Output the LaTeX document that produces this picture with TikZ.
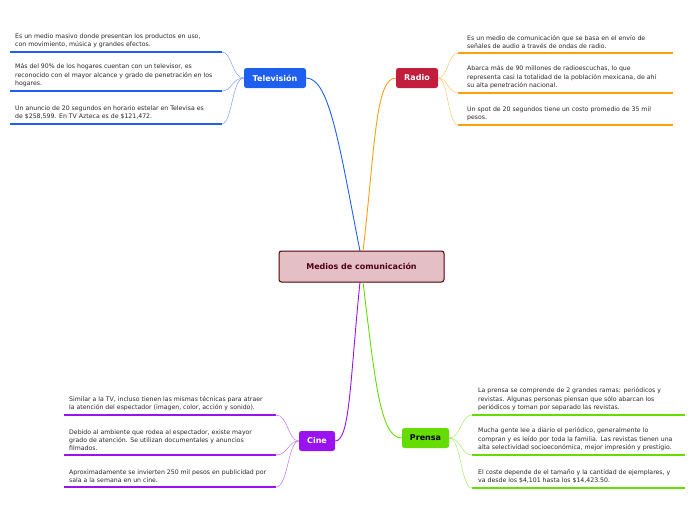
\documentclass[tikz,border=0pt]{standalone}
\usepackage{fontspec}
\setmainfont{DejaVu Sans}
\begin{document}
\begin{tikzpicture}[x=1pt,y=-1pt,
 leaf/.style={anchor=south west,inner sep=0pt,align=left,font=\fontsize{6.2}{8.3}\selectfont,text=black!85},
 topic/.style={rounded corners=2.5pt,minimum height=20pt,inner sep=3pt,font=\bfseries\fontsize{8}{9}\selectfont},
 conn/.style={line width=0.9pt},
 sub/.style={line width=0.5pt},
 bar/.style={line width=2.5pt}]
\useasboundingbox (0,0) rectangle (696,520);
\definecolor{tvc}{HTML}{1F5FF0}
\definecolor{rac}{HTML}{C01E3C}
\definecolor{cic}{HTML}{9A12F0}
\definecolor{prc}{HTML}{66DD00}
\definecolor{ora}{HTML}{FFA010}
\node[draw=black!70!red,line width=1pt,fill={rgb,255:red,228;green,192;blue,198},rounded corners=2.5pt,minimum width=165pt,minimum height=31pt,font=\bfseries\fontsize{8}{9}\selectfont,text={rgb,255:red,80;green,0;blue,20}] (c) at (361.5,266.5) {Medios de comunicación};
\node[topic,fill=tvc,text=white,minimum width=62pt] (tv) at (275,78) {Televisión};
\node[topic,fill=rac,text=white,minimum width=42pt] (ra) at (417,78) {Radio};
\node[topic,fill=cic,text=white,minimum width=36pt] (ci) at (317,441) {Cine};
\node[topic,fill=prc,text=black,minimum width=47pt] (pr) at (425.5,438) {Prensa};
\coordinate (ct) at (360,251); \coordinate (ct2) at (363,251);
\coordinate (cb) at (360,282); \coordinate (cb2) at (363,282);
\draw[conn,tvc] (ct) .. controls (340,150) and (330,78) .. (tv.east);
\draw[conn,ora] (ct2) .. controls (375,150) and (375,78) .. (ra.west);
\draw[conn,cic] (cb) .. controls (350,380) and (350,441) .. (ci.east);
\draw[conn,prc] (cb2) .. controls (375,380) and (380,438) .. (pr.west);
% TV leaves
\foreach \n/\y/\t in {t1/52/{Es un medio masivo donde presentan los productos en uso,\\con movimiento, música y grandes efectos.},
 t2/91/{Más del 90\% de los hogares cuentan con un televisor, es\\reconocido con el mayor alcance y grado de penetración en los\\hogares.},
 t3/124/{Un anuncio de 20 segundos en horario estelar en Televisa es\\de \$258,599. En TV Azteca es de \$121,472.}}{
 \node[leaf] (\n) at (15,\y-4) {\t};
 \coordinate (\n e) at (222,\y); \coordinate (\n s) at (10,\y);
 \draw[bar,tvc] (\n s) -- (\n e);
 \draw[sub,tvc!60] (tv.west) .. controls (232,78) and (232,\y) .. (\n e);}
% Radio
\foreach \n/\y/\t in {r1/53/{Es un medio de comunicación que se basa en el envío de\\señales de audio a través de ondas de radio.},
 r2/93/{Abarca más de 90 millones de radioescuchas, lo que\\representa casi la totalidad de la población mexicana, de ahí\\su alta penetración nacional.},
 r3/125/{Un spot de 20 segundos tiene un costo promedio de 35 mil\\pesos.}}{
 \node[leaf] (\n) at (467,\y-4) {\t};
 \coordinate (\n e) at (458,\y); \coordinate (\n s) at (673,\y);
 \draw[bar,ora] (\n e) -- (\n s);
 \draw[sub,ora!60] (ra.east) .. controls (448,78) and (448,\y) .. (\n e);}
% Cine
\foreach \n/\y/\t in {c1/415/{Similar a la TV, incluso tienen las mismas técnicas para atraer\\la atención del espectador (imagen, color, acción y sonido).},
 c2/455/{Debido al ambiente que rodea al espectador, existe mayor\\grado de atención. Se utilizan documentales y anuncios\\filmados.},
 c3/487/{Aproximadamente se invierten 250 mil pesos en publicidad por\\sala a la semana en un cine.}}{
 \node[leaf] (\n) at (69,\y-4) {\t};
 \coordinate (\n e) at (276,\y); \coordinate (\n s) at (64,\y);
 \draw[bar,cic] (\n s) -- (\n e);
 \draw[sub,cic!60] (ci.west) .. controls (288,441) and (288,\y) .. (\n e);}
% Prensa
\foreach \n/\y/\t in {p1/415/{La prensa se comprende de 2 grandes ramas: periódicos y\\revistas. Algunas personas piensan que sólo abarcan los\\periódicos y toman por separado las revistas.},
 p2/455/{Mucha gente lee a diario el periódico, generalmente lo\\compran y es leído por toda la familia. Las revistas tienen una\\alta selectividad socioeconómica, mejor impresión y prestigio.},
 p3/488/{El coste depende de el tamaño y la cantidad de ejemplares, y\\va desde los \$4,101 hasta los \$14,423.50.}}{
 \node[leaf] (\n) at (478,\y-4) {\t};
 \coordinate (\n e) at (472,\y); \coordinate (\n s) at (685,\y);
 \draw[bar,prc] (\n e) -- (\n s);
 \draw[sub,prc!60] (pr.east) .. controls (461,438) and (461,\y) .. (\n e);}
\end{tikzpicture}
\end{document}
